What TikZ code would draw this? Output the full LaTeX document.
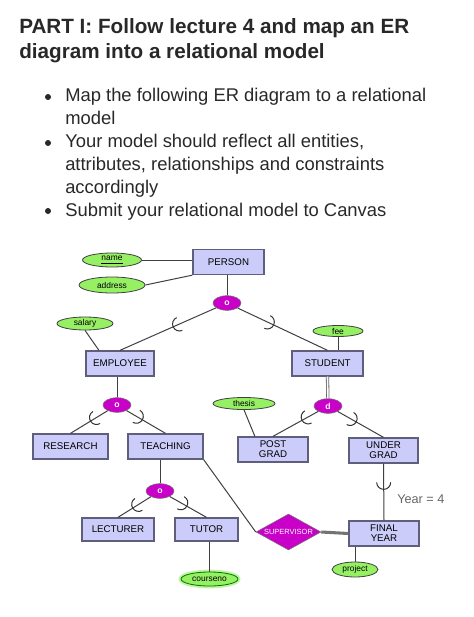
\documentclass[tikz,border=0pt]{standalone}
\usepackage{fontspec}
\setmainfont{Liberation Sans}
\usetikzlibrary{shapes.geometric}

\definecolor{entityfill}{RGB}{204,204,250}
\definecolor{entityline}{RGB}{95,95,125}
\definecolor{attrfill}{RGB}{150,240,100}
\definecolor{specfill}{RGB}{200,0,200}
\definecolor{inkgray}{RGB}{40,40,40}
\definecolor{glowgreen}{RGB}{190,245,160}

\tikzstyle{entity} = [rectangle,draw=entityline,fill=entityfill,line width=1pt,inner sep=0pt,align=center,font=\fontsize{7.3}{7.5}\selectfont]
\tikzstyle{attribute} = [ellipse,draw=black!75,fill=attrfill,line width=0.6pt,inner sep=0pt,font=\fontsize{6.3}{7}\selectfont]
\tikzstyle{special} = [ellipse,draw=black!55,fill=specfill,text=white,minimum width=21pt,minimum height=11pt,inner sep=0pt,font=\bfseries\fontsize{6.5}{7}\selectfont]
\tikzstyle{relation} = [diamond,draw=black!55,fill=specfill,text=white,aspect=1.8,inner sep=0.5pt,minimum width=48.75pt,minimum height=27pt,font=\fontsize{5.6}{6}\selectfont]
\tikzstyle{plaintext} = [anchor=base west,align=left,inner sep=0pt,text=inkgray]
\tikzstyle{edge} = [draw,black!75,line width=0.75pt]
\tikzstyle{double edge} = [draw,black!60,line width=0.6pt,double,double distance=1.2pt]
\tikzstyle{heavy edge} = [draw,black!55,line width=2.3pt]
\tikzstyle{keyglow} = [draw=green!45!black,preaction={draw=glowgreen,line width=3.5pt}]
\tikzset{subset/.pic={\draw[black!80,line width=0.75pt] (0,7) arc[start angle=90,end angle=-90,radius=7];}}

\begin{document}
\begin{tikzpicture}[x=0.75pt,y=-0.75pt]
      \useasboundingbox (0,0) rectangle (474,617);
      %text (base anchor sits on the last line)
      \node[plaintext,font=\bfseries\fontsize{15.5}{18.75}\selectfont] (heading) at (19,59) {PART I: Follow lecture 4 and map an ER\\diagram into a relational model};
      \foreach \nodename/\ytop/\ylast/\lines in {
        maptask/102/124/{Map the following ER diagram to a relational\\model},
        reflecttask/148/193/{Your model should reflect all entities,\\attributes, relationships and constraints\\accordingly},
        submittask/216/216/{Submit your relational model to Canvas}}
      {
        \node[plaintext,font=\fontsize{13.8}{17.25}\selectfont] (\nodename) at (65,\ylast) {\lines};
        \fill[inkgray] (48,\ytop-5) circle (3);
      };
      %nodes
      \foreach \nodename/\x/\y/\w/\h/\caption in {
        person/228.5/262/71/25/PERSON,
        employee/120/363.5/68/25/EMPLOYEE,
        student/327.5/363.5/71/25/STUDENT,
        research/70.5/446.5/75/25/RESEARCH,
        teaching/165.5/446.5/75/25/TEACHING,
        postgrad/273/449.5/70/25/POST\\GRAD,
        undergrad/383.5/450.5/69/25/UNDER\\GRAD,
        finalyear/384/533.5/70/25/FINAL\\YEAR,
        lecturer/118/529.5/72/23/LECTURER,
        tutor/206.5/529.5/63/23/TUTOR}
      {
        \node[entity,minimum width=\w*0.75pt,minimum height=\h*0.75pt] (\nodename) at (\x,\y) {\caption};
      };
      \foreach \nodename/\x/\y/\w/\h/\caption in {
        name/112/260/59/14/\underline{name},
        address/112/285/66/16/address,
        salary/85/323.5/56/13/salary,
        fee/338/331/50/11/fee,
        thesis/244/403.5/62/12/thesis,
        project/355/569.5/46/15/project}
      {
        \node[attribute,minimum width=\w*0.75pt,minimum height=\h*0.75pt] (\nodename) at (\x,\y) {\caption};
      };
      \node[attribute,keyglow,minimum width=42.75pt,minimum height=10.5pt] (courseno) at (209.5,579) {courseno};
      \foreach \nodename/\x/\y/\caption in {o1/227/303/o, o2/117/405/o, o3/160/491/o, d/328/406/d}
      {
        \node[special] (\nodename) at (\x,\y) {\caption};
      };
      \node[relation] (supervisor) at (288.5,532) {SUPERVISOR};
      \node[anchor=west,inner sep=0pt,text=black!60,font=\fontsize{9.5}{10}\selectfont] (yearcond) at (397,499) {Year = 4};
      %edges
      \path
      \foreach \startnode/\endnode in {
        name.east/person.west |- name.east, address.east/person.south west,
        o1/o1 |- person.south, salary.south/employee.148,
        fee.south/fee.south |- student.north, thesis.south/postgrad.144,
        o2/o2 |- employee.south, o3/o3 |- teaching.south,
        courseno.north/courseno.north |- tutor.south,
        project.north/project.north |- finalyear.south,
        teaching.south east/supervisor.west}
      {
        (\startnode) edge[edge] (\endnode)
      };
      \path (student.south) edge[double edge] (d);
      \path (supervisor.east) edge[heavy edge] (finalyear.west);
      \foreach \startnode/\endnode/\where in {
        o1/employee.north/0.38, o1/student.north/0.33,
        o2/research.north/0.3, o2/teaching.north/0.25,
        o3/lecturer.north/0.37, o3/tutor.north/0.3,
        d/postgrad.north/0.22, d/undergrad.north/0.27,
        undergrad.south/finalyear.north/0.33}
      {
        \draw[edge] (\startnode) -- pic[pos=\where,sloped,allow upside down]{subset} (\endnode);
      };
\end{tikzpicture}
\end{document}
